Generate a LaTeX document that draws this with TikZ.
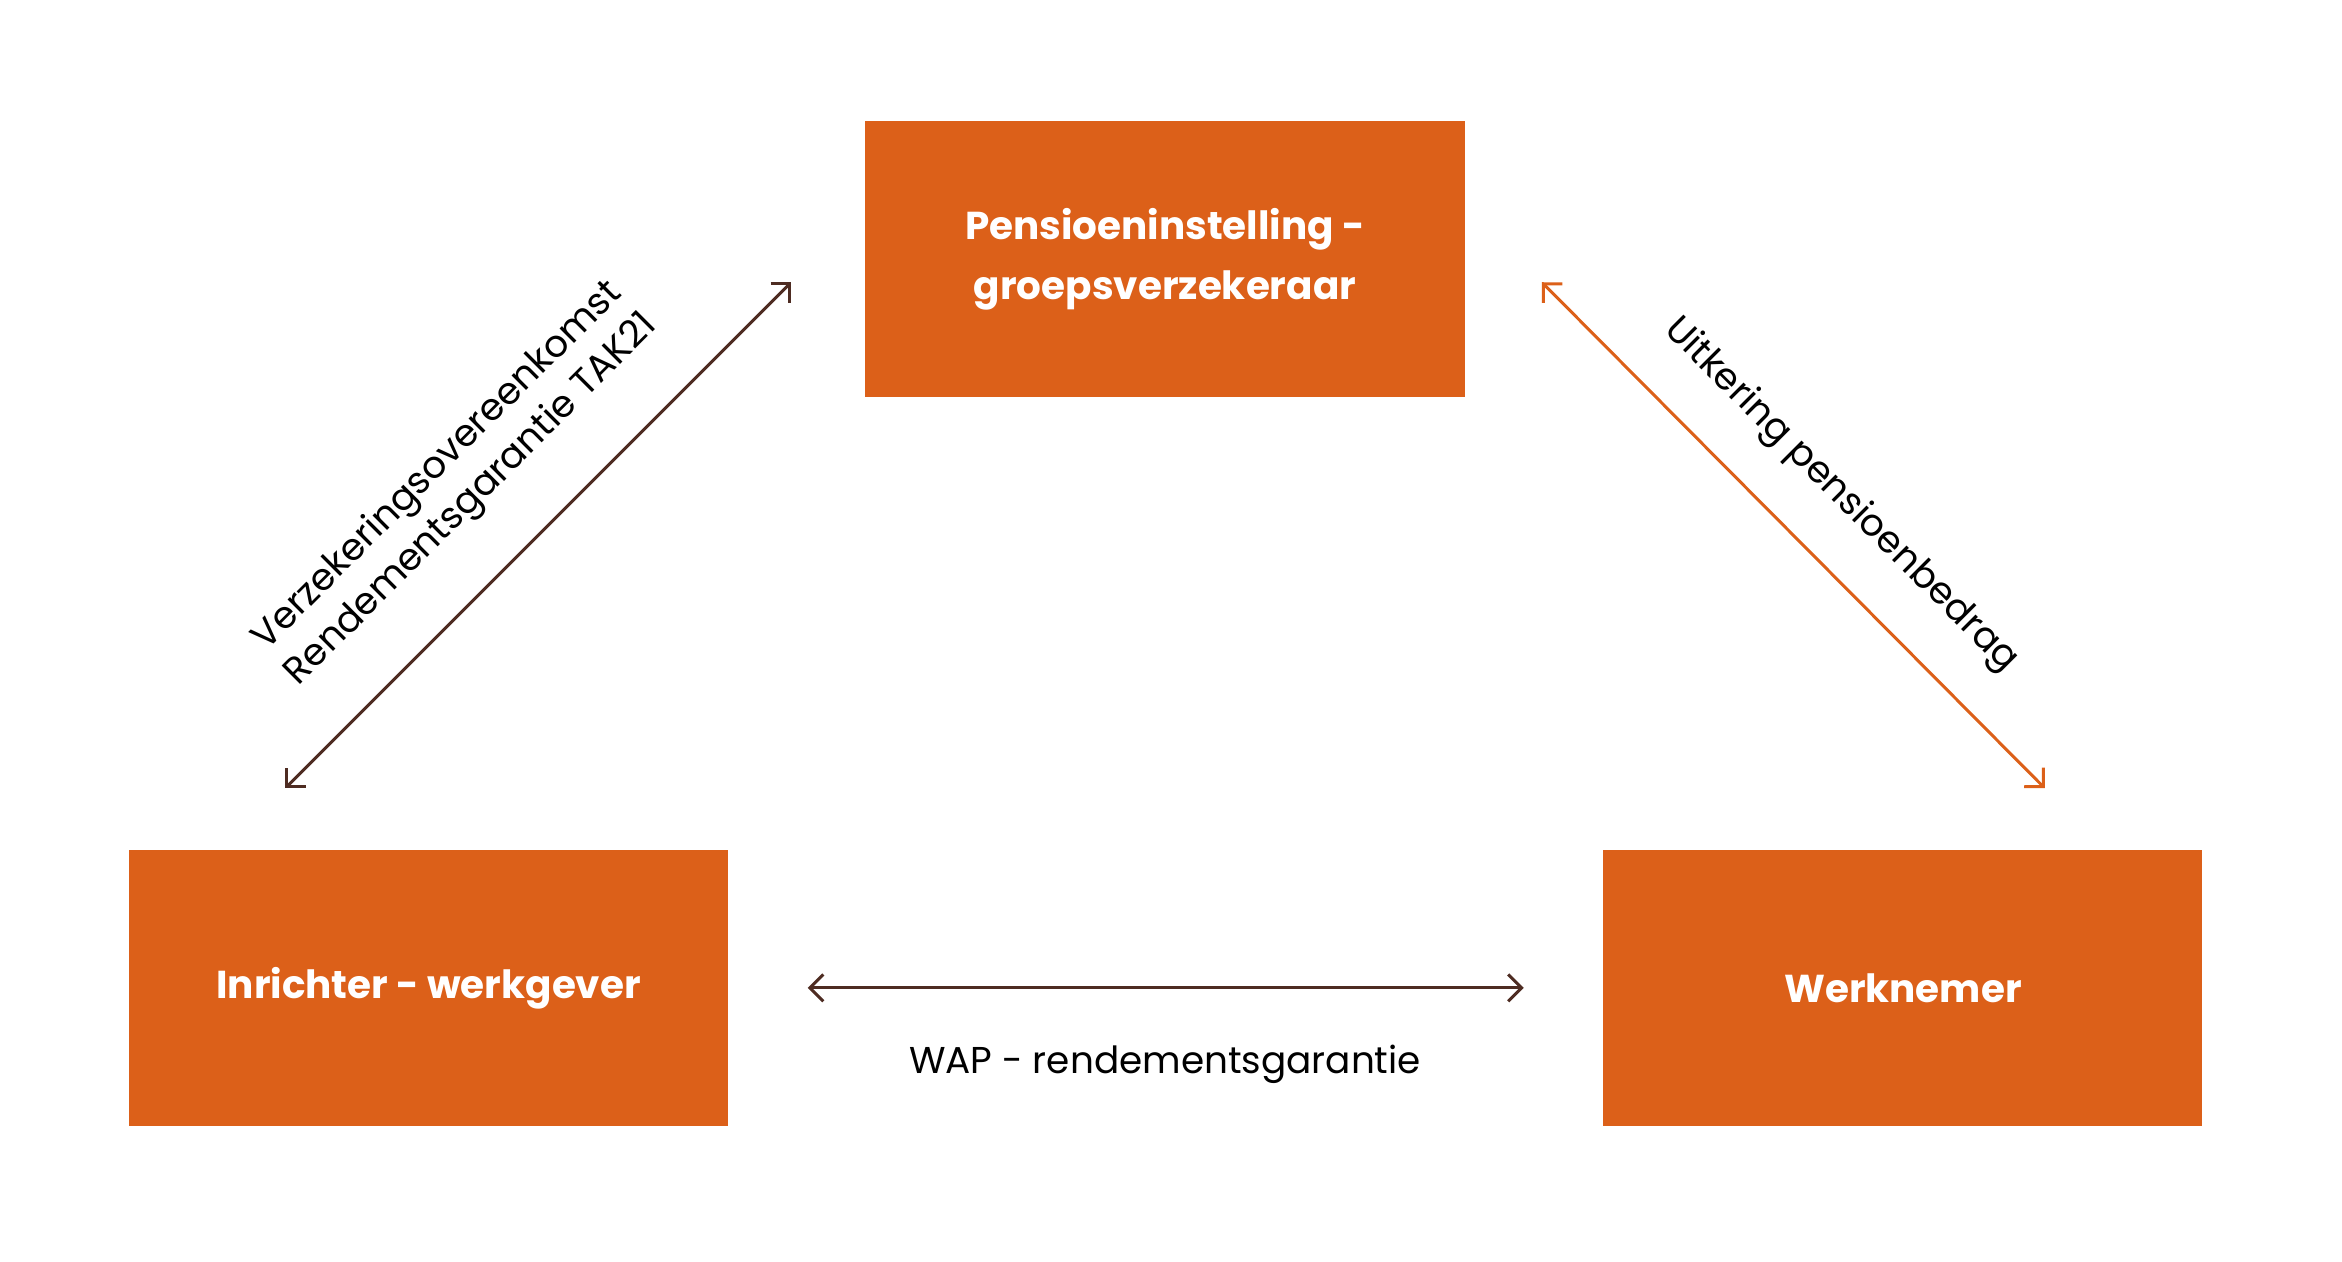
\documentclass[tikz,border=0pt]{standalone}
\usepackage{fontspec}
\setmainfont{Poppins}
\usetikzlibrary{arrows.meta}
\definecolor{org}{HTML}{DC6019}
\definecolor{brn}{HTML}{4E2C22}
\begin{document}
\begin{tikzpicture}[x=1bp,y=-1bp,
 box/.style={fill=org,draw=none,minimum width=399bp,minimum height=184bp,text=white,font=\fontsize{26}{40}\selectfont\bfseries,align=center,inner sep=0},
 lab/.style={font=\fontsize{25}{32}\selectfont,text=black,align=center},
 arr/.style={{Straight Barb[length=9pt,width=18pt]}-{Straight Barb[length=9pt,width=18pt]},line width=2pt}]
\useasboundingbox (0,0) rectangle (1560,840);
\node[box] (top) at (776,172.5) {Pensioeninstelling -\\groepsverzekeraar};
\node[box] (left) at (285.5,658) {Inrichter - werkgever};
\node[box] (right) at (1267.5,658) {Werknemer};
\coordinate (a1) at (190,525); \coordinate (a2) at (527,188);
\coordinate (b1) at (1027,188); \coordinate (b2) at (1362,525);
\coordinate (c1) at (538,658); \coordinate (c2) at (1015,658);
\draw[arr,brn] (a1) -- (a2);
\draw[arr,org] (b1) -- (b2);
\draw[arr,brn] (c1) -- (c2);
\node[lab] (wap) at (776,709) {WAP - rendementsgarantie};
\node[lab,rotate=45] (l1) at (303,322) {Verzekeringsovereenkomst\\Rendementsgarantie TAK21};
\node[lab,rotate=-45] (l2) at (1226,330) {Uitkering pensioenbedrag};
\end{tikzpicture}
\end{document}
